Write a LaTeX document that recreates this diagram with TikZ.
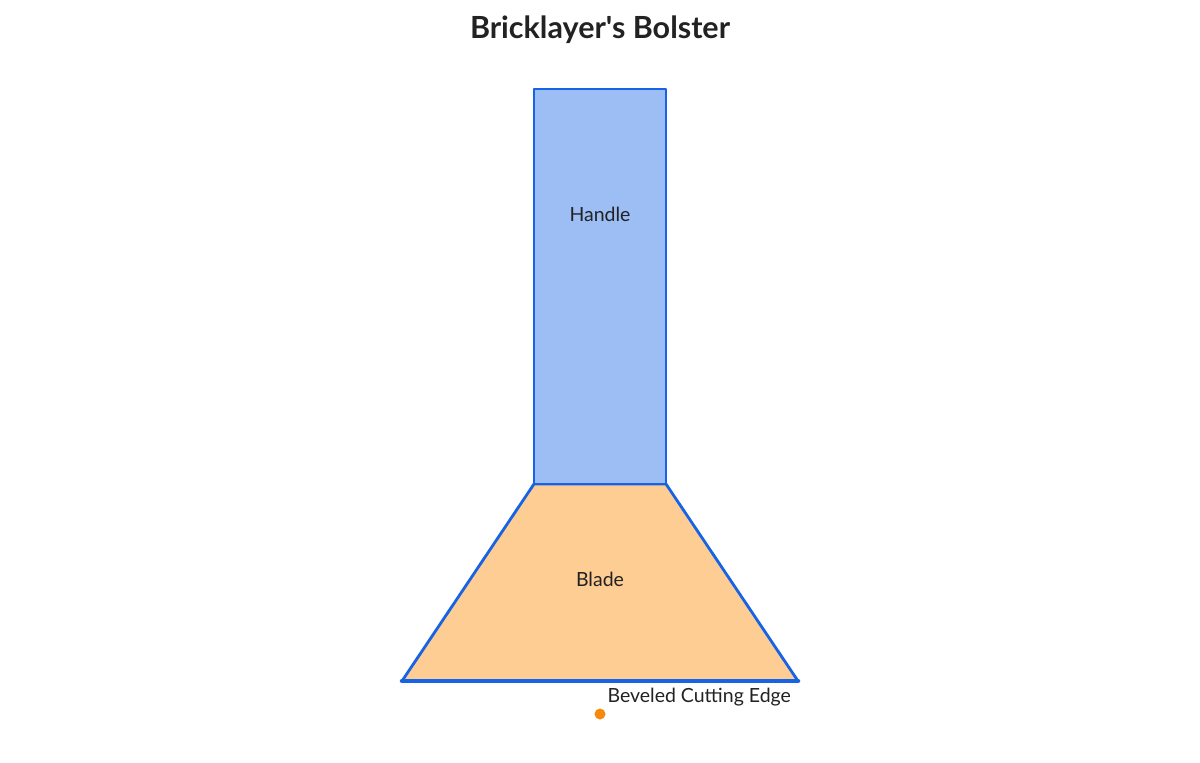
\documentclass[tikz,border=0pt]{standalone}
\usepackage{fontspec}
\setmainfont{Lato}[Ligatures=TeXOff]
\definecolor{strokeblue}{HTML}{1763E6}
\definecolor{handlefill}{HTML}{9CBEF5}
\definecolor{bladefill}{HTML}{FDCD93}
\definecolor{dotorange}{HTML}{F58A0C}
\definecolor{textdark}{HTML}{222222}
\tikzset{
  part/.style={draw=strokeblue, line width=2.8pt, line join=round},
  lbl/.style={text=textdark, font=\fontsize{19.5}{22}\selectfont},
}
\begin{document}
\begin{tikzpicture}[x=1pt,y=-1pt]
\useasboundingbox (0,0) rectangle (1200,763);
\node[text=textdark, font=\bfseries\fontsize{30.5}{34}\selectfont] (title) at (600,30) {Bricklayer's Bolster};
\coordinate (bl) at (402,681);
\coordinate (br) at (798,681);
\draw[part, fill=bladefill] (534,484) -- (666,484) -- (br) -- (bl) -- cycle;
\draw[part, fill=handlefill] (534,89) rectangle (666,484);
\draw[strokeblue, line width=4.5pt, line cap=round] (bl) -- (br);
\node[lbl] (handle) at (600,214) {Handle};
\node[lbl] (blade) at (600,579) {Blade};
\node[lbl, anchor=west] (edge) at (604,697) {Beveled Cutting Edge};
\fill[dotorange] (600,714) circle (5.5);
\end{tikzpicture}
\end{document}
